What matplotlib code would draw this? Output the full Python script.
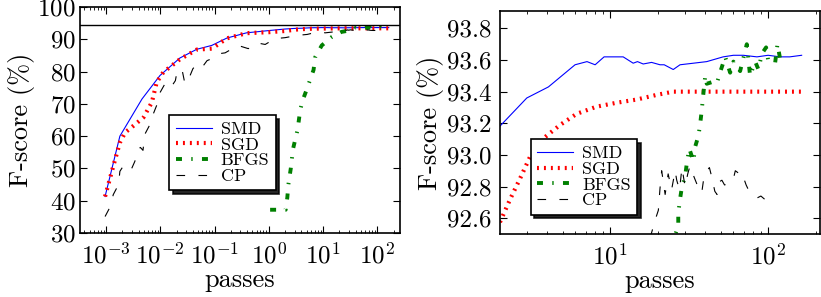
import matplotlib
matplotlib.use("Agg")
import matplotlib.pyplot as plt
from matplotlib.ticker import LogLocator, NullFormatter, FormatStrFormatter, FixedLocator

plt.rcParams['font.family'] = ['cmr10', 'DejaVu Serif']
plt.rcParams['mathtext.fontset'] = 'cm'
plt.rcParams['axes.formatter.use_mathtext'] = True
plt.rcParams['lines.scale_dashes'] = False

# ---------------- data ----------------
smd_x = [0.00096, 0.0018, 0.0046, 0.0099, 0.023, 0.047, 0.089, 0.17, 0.39, 1.0,
         2.0, 2.97, 4.07, 6.0, 7.14, 8.04, 9.16, 12.1, 14.0, 14.9, 16.2, 18.3,
         20.7, 22.0, 25.1, 27.7, 33.7, 40.9, 51.9, 60.3, 69.7, 85, 100, 119, 137, 163]
smd_y = [41.3, 60.0, 71.5, 78.8, 84.2, 86.9, 88.1, 90.4, 92.0, 92.7,
         93.18, 93.36, 93.43, 93.57, 93.59, 93.57, 93.62, 93.62, 93.58, 93.59, 93.575, 93.585,
         93.57, 93.57, 93.54, 93.57, 93.58, 93.59, 93.62, 93.63, 93.63, 93.62, 93.63, 93.62, 93.62, 93.63]

sgd_x = [0.00096, 0.00136, 0.0018, 0.00224, 0.0032, 0.0049, 0.0070, 0.0086, 0.0114, 0.023,
         0.047, 0.089, 0.17, 0.39, 1.0, 2.0, 2.33, 2.69, 3.12, 3.79, 4.83, 6.15, 8.2, 11.0,
         14.7, 19.8, 25.1, 40, 60, 100, 166]
sgd_y = [41.3, 50.7, 58.0, 61.1, 63.2, 65.8, 70.5, 76.7, 79.8, 83.8,
         86.8, 87.1, 90.3, 91.9, 92.2, 92.57, 92.72, 92.85, 92.99, 93.105, 93.19, 93.26, 93.305, 93.33,
         93.35, 93.38, 93.40, 93.40, 93.40, 93.40, 93.40]

bfgs_x = [1.06, 1.41, 2.05, 2.2, 2.3, 2.55, 2.8, 3.4, 3.8, 4.2, 4.9, 6.7, 7.2, 9.5, 14.5, 22,
          27.0, 27.0, 27.7, 28.4, 29.9, 30.6, 31.7, 33.7, 34.5, 36.2, 37.1, 38.0, 38.5, 40.0,
          40.9, 44.0, 47.3, 49.6, 53.5, 57.5, 60.3, 66.5, 73.3, 76.9, 82.8, 86.9, 91.3, 97.1,
          100, 110.7, 114.6, 119, 126]
bfgs_y = [37.2, 37.2, 37.2, 41, 45, 50, 56, 62, 68, 71, 74, 80.5, 84.5, 88.1, 90.7, 92.3,
          92.55, 92.63, 92.72, 92.79, 92.87, 92.95, 93.04, 92.96, 93.05, 93.12, 93.19, 93.28, 93.34, 93.50,
          93.45, 93.46, 93.45, 93.52, 93.62, 93.52, 93.59, 93.53, 93.70, 93.50, 93.59, 93.54, 93.64, 93.68,
          93.60, 93.58, 93.70, 93.61, 93.64]

cp_x = [0.00096, 0.0012, 0.00136, 0.0017, 0.0018, 0.002, 0.0022, 0.0028, 0.0034, 0.0039,
        0.0043, 0.0048, 0.0052, 0.0065, 0.0074, 0.0091, 0.0099, 0.012, 0.015, 0.019,
        0.020, 0.025, 0.0285, 0.0355, 0.040, 0.048, 0.052, 0.057, 0.062, 0.073,
        0.09, 0.117, 0.157, 0.27, 0.42, 0.6, 0.86, 1.3, 2.0, 3.3,
        5.1, 8.1, 11, 16,
        19.3, 20.2, 20.7, 21.2, 22.3, 23.3, 24.5, 25.8, 26.4, 27.5,
        28.5, 29.8, 31, 32, 34, 36.6, 38, 39, 41, 42.5,
        44, 46, 47.5, 49, 51, 53, 56, 60, 62, 66,
        68, 72.6, 75, 78, 82, 86, 90, 95, 100, 106]
cp_y = [35.1, 38.2, 41.9, 45.0, 49.1, 50.3, 49.5, 49.0, 52.2, 55.9,
        56.5, 55.6, 60.6, 63.7, 66.8, 70.6, 73.5, 76.0, 74.6, 77.2,
        79.3, 80.9, 76.2, 78.8, 80.9, 82.4, 81.8, 82.2, 81.8, 83.4,
        84.0, 85.5, 85.8, 88.1, 87.1, 88.9, 88.4, 90.2, 90.5, 91.2,
        91.5, 92.3, 92.0, 92.3,
        92.59, 92.65, 92.79, 92.90, 92.75, 92.88, 92.78, 92.90, 92.84, 92.78,
        92.92, 92.80, 92.88, 92.93, 92.86, 92.78, 92.76, 92.84, 92.90, 92.92,
        92.86, 92.77, 92.75, 92.83, 92.84, 92.81, 92.82, 92.84, 92.90, 92.88,
        92.89, 92.81, 92.78, 92.76, 92.74, 92.73, 92.74, 92.72, 92.74, 92.70]

ref_level = 94.3
labels = ["SMD", "SGD", "BFGS", "CP"]
left_xticks = [1e-3, 1e-2, 1e-1, 1e0, 1e1, 1e2]
right_xticks = [1e1, 1e2]
left_yticks = [30, 40, 50, 60, 70, 80, 90, 100]
right_yticks = [92.6, 92.8, 93.0, 93.2, 93.4, 93.6, 93.8]

series = [(smd_x, smd_y), (sgd_x, sgd_y), (bfgs_x, bfgs_y), (cp_x, cp_y)]
styles = [
    dict(color='b', lw=0.8, ls='-'),
    dict(color='r', lw=3.0, dashes=(1.4, 3.6)),
    dict(color='#008000', lw=2.8, dashes=(4.3, 6.7, 1.0, 6.7)),
    dict(color='k', lw=0.8, dashes=(6.2, 9.6)),
]

FS_TICK = 18
FS_LAB = 19

fig = plt.figure(figsize=(8.21, 2.97), dpi=100)
ax1 = fig.add_axes([80/821, 64/297, 320/821, 226/297])
ax2 = fig.add_axes([500/821, 63/297, 320/821, 223/297])

for ax, xt in ((ax1, left_xticks), (ax2, right_xticks)):
    for (x, y), st, lab in zip(series, styles, labels):
        ax.plot(x, y, label=lab, **st)
    ax.set_xscale('log')
    for s in ax.spines.values():
        s.set_linewidth(1.2)
    ax.tick_params(which='both', direction='in', top=True, right=True, labelsize=FS_TICK)
    ax.tick_params(which='major', length=5, width=0.8)
    ax.tick_params(which='minor', length=2.5, width=0.6)
    ax.set_xlabel('passes', fontsize=FS_LAB, labelpad=0)
    ax.set_ylabel('F-score (%)', fontsize=FS_LAB, labelpad=2)
    ax.xaxis.set_major_locator(FixedLocator(xt))
    ax.xaxis.set_minor_locator(LogLocator(base=10, subs=range(2, 10), numticks=20))
    ax.xaxis.set_minor_formatter(NullFormatter())

ax1.axhline(ref_level, color='k', lw=1.0)
ax1.set_xlim(10**-3.48, 10**2.42)
ax1.set_ylim(30, 100)
ax1.set_yticks(left_yticks)
ax1.tick_params(axis='y', pad=3)
ax1.tick_params(axis='x', pad=7)

ax2.set_xlim(2.01, 213)
ax2.set_ylim(92.5, 93.91)
ax2.set_yticks(right_yticks)
ax2.yaxis.set_major_formatter(FormatStrFormatter('%.1f'))
ax2.tick_params(axis='y', pad=6)
ax2.tick_params(axis='x', pad=7)

leg_kw = dict(fontsize=13, handlelength=2.0, labelspacing=0.0, borderpad=0.35,
              handletextpad=0.5, fancybox=False, edgecolor='k', framealpha=1,
              shadow={'color': 'k', 'alpha': 0.85, 'ox': 2.5, 'oy': -2.5})
l1 = ax1.legend(loc='center', bbox_to_anchor=(0.445, 0.355), **leg_kw)
l2 = ax2.legend(loc='center', bbox_to_anchor=(0.262, 0.256), **leg_kw)
for l in (l1, l2):
    l.get_frame().set_linewidth(1.2)

fig.savefig('out.png', dpi=100)
